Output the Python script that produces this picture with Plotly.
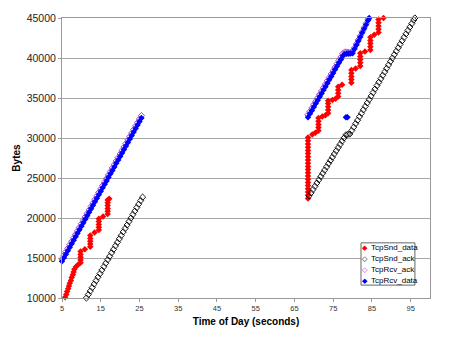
import plotly.graph_objects as go

# ---------------- data ----------------
# TcpSnd_data (red filled diamonds)
snd_data_x1 = [5.8, 6.1, 6.3, 6.6, 6.8, 7.0, 7.3, 7.5, 7.8, 8.0, 8.2, 8.6, 9.2,
               9.8, 9.8, 9.8, 9.8, 9.8, 10.9,
               12.3, 12.3, 12.3, 12.3, 12.3, 13.4,
               14.5, 14.5, 14.5, 14.5, 14.5, 15.6,
               16.8, 16.8, 16.8, 16.8, 16.8, 16.8, 17.2]
snd_data_y1 = [10100, 10450, 10800, 11150, 11500, 11850, 12200, 12550, 12900, 13250, 13600, 13900, 14200,
               14400, 14750, 15100, 15450, 15800, 16100,
               16400, 16750, 17100, 17450, 17800, 18200,
               18500, 18850, 19200, 19550, 19900, 20200,
               20500, 20850, 21200, 21550, 21900, 22250, 22400]
snd_data_x2 = [68.5] * 20 + [69.6, 70.4,
               71.2, 71.2, 71.2, 71.2, 71.2, 72.2, 73.0,
               73.7, 73.7, 73.7, 73.7, 73.7, 74.8, 75.6,
               76.3, 76.3, 76.3, 76.3, 77.3,
               79.7, 79.7, 79.7, 79.7, 79.7, 80.8,
               82.0, 82.0, 82.0, 82.0, 82.0, 83.2,
               84.6, 84.6, 84.6, 84.6, 84.6, 85.6,
               86.7, 86.7, 86.7, 86.7, 86.7, 88.0]
snd_data_y2 = [22450, 22850, 23250, 23650, 24050, 24450, 24850, 25250, 25650, 26050,
               26450, 26850, 27250, 27650, 28050, 28450, 28850, 29250, 29650, 30050,
               30450, 30650,
               30900, 31300, 31700, 32100, 32500, 32700, 32850,
               33100, 33500, 33900, 34300, 34650, 34750, 34900,
               35200, 35600, 36000, 36400, 36650,
               36900, 37300, 37700, 38100, 38500, 38700,
               39000, 39400, 39800, 40200, 40600, 40800,
               41000, 41400, 41800, 42200, 42600, 42900,
               43200, 43600, 44000, 44400, 44800, 45000]

# TcpSnd_ack (black open diamonds)
snd_ack_x1 = [11.3, 11.8, 12.3, 12.8, 13.3, 13.8, 14.3, 14.8, 15.3, 15.8, 16.3, 16.8, 17.3, 17.8, 18.3,
              18.8, 19.3, 19.8, 20.3, 20.8, 21.3, 21.8, 22.3, 22.8, 23.3, 23.8, 24.3, 24.8, 25.3, 25.8]
snd_ack_y1 = [10000, 10430, 10870, 11300, 11740, 12170, 12610, 13040, 13480, 13910, 14350, 14780, 15210, 15650, 16080,
              16520, 16950, 17390, 17820, 18260, 18690, 19120, 19560, 19990, 20430, 20860, 21300, 21730, 22170, 22600]
snd_ack_x2 = [68.8, 69.3, 69.8, 70.3, 70.8, 71.3, 71.8, 72.3, 72.8, 73.3, 73.8, 74.3, 74.8, 75.3, 75.8,
              76.3, 76.8, 77.3, 77.8, 78.3, 78.8, 79.3, 79.8, 80.3, 80.8, 81.3, 81.8, 82.3, 82.8, 83.3,
              83.8, 84.3, 84.8, 85.3, 85.8, 86.3, 86.8, 87.3, 87.8, 88.3, 88.8, 89.3, 89.8, 90.3, 90.8,
              91.3, 91.8, 92.3, 92.8, 93.3, 93.8, 94.3, 94.8, 95.3, 95.8, 96.1]
snd_ack_y2 = [22750, 23150, 23560, 23960, 24370, 24770, 25180, 25580, 25990, 26390, 26800, 27200, 27600, 28000, 28400,
              28800, 29200, 29600, 30000, 30400, 30450, 30500, 30930, 31360, 31790, 32220, 32660, 33090, 33520, 33950,
              34380, 34810, 35240, 35680, 36110, 36540, 36970, 37400, 37830, 38260, 38700, 39130, 39560, 39990, 40420,
              40850, 41280, 41720, 42150, 42580, 43010, 43440, 43870, 44300, 44740, 45000]

# TcpRcv_ack (purple open diamonds)
rcv_ack_x1 = [5.0, 5.5, 6.0, 6.5, 7.0, 7.5, 8.0, 8.5, 9.0, 9.5, 10.0, 10.5, 11.0, 11.5, 12.0, 12.5, 13.0, 13.5,
              14.0, 14.5, 15.0, 15.5, 16.0, 16.5, 17.0, 17.5, 18.0, 18.5, 19.0, 19.5, 20.0, 20.5, 21.0, 21.5,
              22.0, 22.5, 23.0, 23.5, 24.0, 24.5, 25.0, 25.5]
rcv_ack_y1 = [14900, 15340, 15770, 16210, 16650, 17080, 17520, 17960, 18390, 18830, 19270, 19700, 20140, 20580,
              21010, 21450, 21890, 22320, 22760, 23200, 23630, 24070, 24510, 24940, 25380, 25820, 26250, 26690,
              27130, 27560, 28000, 28440, 28870, 29310, 29750, 30180, 30620, 31060, 31490, 31930, 32370, 32800]
rcv_ack_x2 = [68.5, 69.0, 69.5, 70.0, 70.5, 71.0, 71.5, 72.0, 72.5, 73.0, 73.5, 74.0, 74.5, 75.0, 75.5, 76.0,
              76.5, 77.0, 77.5, 78.0, 78.5, 79.0, 79.5, 80.0, 80.5, 81.0, 81.5, 82.0, 82.5, 83.0, 83.5, 84.0]
rcv_ack_y2 = [32900, 33320, 33750, 34170, 34600, 35020, 35450, 35870, 36300, 36720, 37150, 37570, 38000, 38420,
              38850, 39270, 39700, 40120, 40550, 40750, 40750, 40700, 40700, 40750, 41250, 41770, 42280, 42790,
              43300, 43810, 44320, 44830]

# TcpRcv_data (blue filled diamonds)
rcv_data_x1 = [5.0, 5.5, 6.0, 6.5, 7.0, 7.5, 8.0, 8.5, 9.0, 9.5, 10.0, 10.5, 11.0, 11.5, 12.0, 12.5, 13.0, 13.5,
               14.0, 14.5, 15.0, 15.5, 16.0, 16.5, 17.0, 17.5, 18.0, 18.5, 19.0, 19.5, 20.0, 20.5, 21.0, 21.5,
               22.0, 22.5, 23.0, 23.5, 24.0, 24.5, 25.0, 25.5]
rcv_data_y1 = [14600, 15040, 15470, 15910, 16350, 16780, 17220, 17660, 18090, 18530, 18970, 19400, 19840, 20280,
               20710, 21150, 21590, 22020, 22460, 22900, 23330, 23770, 24210, 24640, 25080, 25520, 25950, 26390,
               26830, 27260, 27700, 28140, 28570, 29010, 29450, 29880, 30320, 30760, 31190, 31630, 32070, 32500]
rcv_data_x2 = [68.5, 69.0, 69.5, 70.0, 70.5, 71.0, 71.5, 72.0, 72.5, 73.0, 73.5, 74.0, 74.5, 75.0, 75.5, 76.0,
               76.5, 77.0, 77.5, 78.0, 78.5, 79.0, 79.5, 80.0, 80.5, 81.0, 81.5, 82.0, 82.5, 83.0, 83.5, 84.0, 84.3,
               78.3, 78.7]
rcv_data_y2 = [32600, 33020, 33450, 33870, 34300, 34720, 35150, 35570, 36000, 36420, 36850, 37270, 37700, 38120,
               38550, 38970, 39400, 39820, 40250, 40500, 40520, 40540, 40560, 40600, 41110, 41620, 42130, 42640,
               43150, 43660, 44170, 44680, 45000,
               32600, 32600]

series_names = ["TcpSnd_data", "TcpSnd_ack", "TcpRcv_ack", "TcpRcv_data"]
x_ticks = [5, 15, 25, 35, 45, 55, 65, 75, 85, 95]
y_ticks = [10000, 15000, 20000, 25000, 30000, 35000, 40000, 45000]

# ---------------- figure ----------------
RED, BLACK, PURPLE, BLUE = "#FF0000", "#000000", "#9933CC", "#0000FF"
series = [
    (series_names[0], snd_data_x1 + snd_data_x2, snd_data_y1 + snd_data_y2, "diamond", RED),
    (series_names[1], snd_ack_x1 + snd_ack_x2, snd_ack_y1 + snd_ack_y2, "diamond-open", BLACK),
    (series_names[2], rcv_ack_x1 + rcv_ack_x2, rcv_ack_y1 + rcv_ack_y2, "diamond-open", PURPLE),
    (series_names[3], rcv_data_x1 + rcv_data_x2, rcv_data_y1 + rcv_data_y2, "diamond", BLUE),
]

fig = go.Figure()
for name, xs, ys, sym, col in series:
    is_open = "open" in sym
    fig.add_trace(go.Scatter(
        x=xs, y=ys, mode="markers", name=name, showlegend=False, cliponaxis=False,
        marker=dict(symbol=sym, size=4.8 if is_open else 5, color=col,
                    line=dict(width=0.9 if is_open else 0, color=col)),
    ))

FONT = "Arial, 'Liberation Sans', sans-serif"
fig.update_layout(
    width=474, height=338,
    margin=dict(l=62, r=44, t=14, b=40),
    paper_bgcolor="white", plot_bgcolor="white",
    font=dict(family=FONT, color="#000"),
    showlegend=False,
    xaxis=dict(range=[5, 100], tickvals=x_ticks, showgrid=False, zeroline=False,
               showline=True, linecolor="#9a9a9a", linewidth=1, mirror=True,
               ticks="outside", ticklen=3, tickcolor="#9a9a9a",
               tickfont=dict(size=7.5, color="#333"),
               title=dict(text="Time of Day (seconds)", standoff=5,
                          font=dict(size=10, weight="bold", color="#000"))),
    yaxis=dict(range=[10000, 45000], tickvals=y_ticks, tickformat="d",
               showgrid=True, gridcolor="#a8a8a8", gridwidth=1, zeroline=False,
               showline=True, linecolor="#9a9a9a", linewidth=1, mirror=True,
               ticks="outside", ticklen=3, tickcolor="#9a9a9a",
               tickfont=dict(size=10.5, color="#222"),
               title=dict(text="Bytes", standoff=4,
                          font=dict(size=10, weight="bold", color="#000"))),
)

# custom compact legend (box + rows)
fig.add_shape(type="rect", xref="paper", yref="paper",
              x0=0.8125, x1=0.959, y0=0.046, y1=0.197,
              line=dict(color="#666", width=1), fillcolor="white", layer="above")
row_y = [0.1806, 0.1398, 0.1011, 0.0634]
glyphs = ["◆", "◇", "◇", "◆"]
cols = [RED, BLACK, PURPLE, BLUE]
for nm, yy, g, c in zip(series_names, row_y, glyphs, cols):
    fig.add_annotation(xref="paper", yref="paper", x=0.824, y=yy, text=g, showarrow=False,
                       xanchor="center", yanchor="middle", font=dict(size=7, color=c))
    fig.add_annotation(xref="paper", yref="paper", x=0.833, y=yy, text=nm, showarrow=False,
                       xanchor="left", yanchor="middle", font=dict(size=8, color="#000"))

fig.write_html("out.html")
